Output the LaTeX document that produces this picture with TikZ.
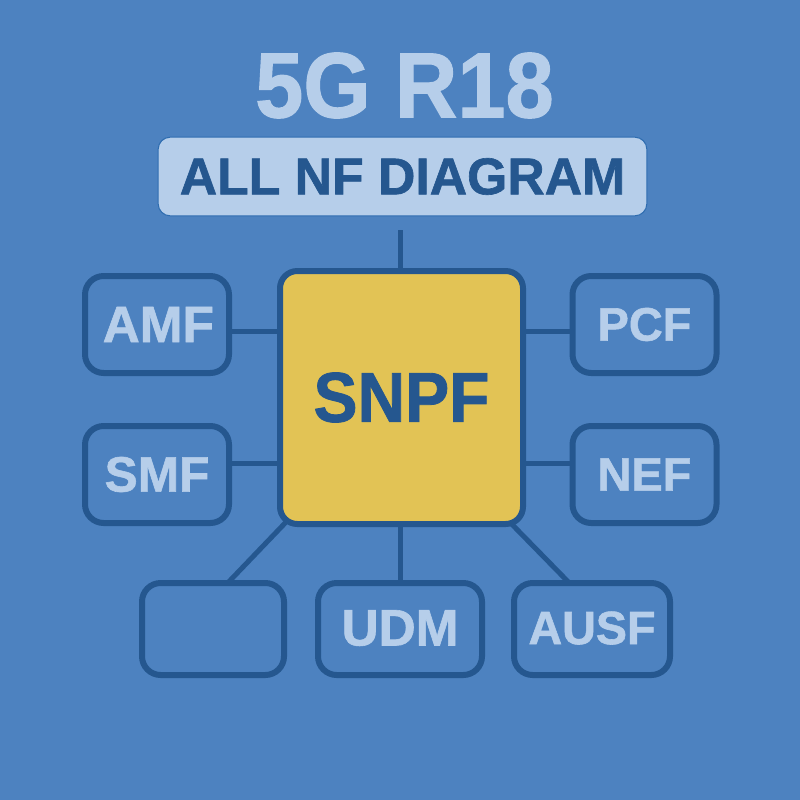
\documentclass[tikz,border=0pt]{standalone}
\usepackage{fontspec}
\usepackage{graphicx}
\setmainfont[BoldFeatures={FakeBold=1.2}]{Liberation Sans}
\definecolor{bgblue}{HTML}{4D82C0}
\definecolor{dark}{HTML}{25578F}
\definecolor{pale}{HTML}{B6CEEA}
\definecolor{gold}{HTML}{E2C355}
\definecolor{rim}{HTML}{2F6DB0}
\tikzset{
  x=.75pt,y=-.75pt,
  nf/.style={draw=dark,line width=4.5pt,rounded corners=14pt,outer sep=0pt,inner sep=0pt,
    align=center,text=pale,font=\bfseries},
  row/.style={nf,minimum width=108pt,minimum height=72.75pt},
  low/.style={nf,minimum height=69pt},
  hub/.style={draw=dark,line width=4.5pt,rounded corners=13pt,fill=gold,outer sep=0pt,inner sep=0pt,
    minimum width=182.25pt,minimum height=189.75pt,text=dark,
    font=\fontsize{49.5pt}{50pt}\bfseries},
  plate/.style={draw=rim,line width=.8pt,fill=pale,rounded corners=9pt,outer sep=0pt,inner sep=0pt,
    minimum width=366.5pt,minimum height=59pt,text=dark,
    font=\fontsize{38.8pt}{40pt}\bfseries},
  headline/.style={text=pale,inner sep=0pt,font=\fontsize{65pt}{66pt}\bfseries},
  link/.style={draw=dark,line width=3.75pt},
}
\begin{document}
\begin{tikzpicture}
\useasboundingbox (0,0) rectangle (800,800);
\fill[bgblue] (0,0) rectangle (800,800);
\node[headline] (title) at (404.5,85.5) {\scalebox{1}[1.07]{5G R18}};
\node[plate] (sub) at (402.5,176.5) {\raisebox{-.7pt}{ALL NF DIAGRAM}};
\coordinate (stub) at (400.5,230);
\node[hub] (snpf) at (401.5,397.5) {\raisebox{-3pt}{\scalebox{1}[1.07]{SNPF}}};
\node[row,font=\fontsize{38.5pt}{40pt}\bfseries] (amf) at (157,324.5) {\hspace*{2pt}AMF};
\node[row,font=\fontsize{37.2pt}{38pt}\bfseries] (smf) at (157,474.5) {SMF};
\node[row,font=\fontsize{35.2pt}{36pt}\bfseries] (pcf) at (644.5,324.5) {PCF};
\node[row,font=\fontsize{35.2pt}{36pt}\bfseries] (nef) at (644.5,474.5) {NEF};
\node[low,minimum width=106.5pt] (blank) at (213,629) {};
\node[low,minimum width=123pt,font=\fontsize{38.5pt}{40pt}\bfseries] (udm) at (400,629) {\raisebox{1.8pt}{UDM}};
\node[low,minimum width=117pt,font=\fontsize{35pt}{36pt}\bfseries] (ausf) at (592,629) {\raisebox{1.8pt}{AUSF}};
\draw[link] (stub) -- (stub |- snpf.north);
\draw[link] ([yshift=-4.9pt]amf.east) -- ([yshift=-4.9pt]amf.east -| snpf.west);
\draw[link] ([yshift=8.6pt]smf.east) -- ([yshift=8.6pt]smf.east -| snpf.west);
\draw[link] ([yshift=-4.9pt]pcf.west) -- ([yshift=-4.9pt]pcf.west -| snpf.east);
\draw[link] ([yshift=8.6pt]nef.west) -- ([yshift=8.6pt]nef.west -| snpf.east);
\draw[link] (udm.north) -- (udm.north |- snpf.south);
\draw[link] ([xshift=11pt]blank.north) -- ([xshift=6pt,yshift=3pt]snpf.south west);
\draw[link] ([xshift=-17pt]ausf.north) -- ([xshift=-9.5pt,yshift=1pt]snpf.south east);
\end{tikzpicture}
\end{document}
